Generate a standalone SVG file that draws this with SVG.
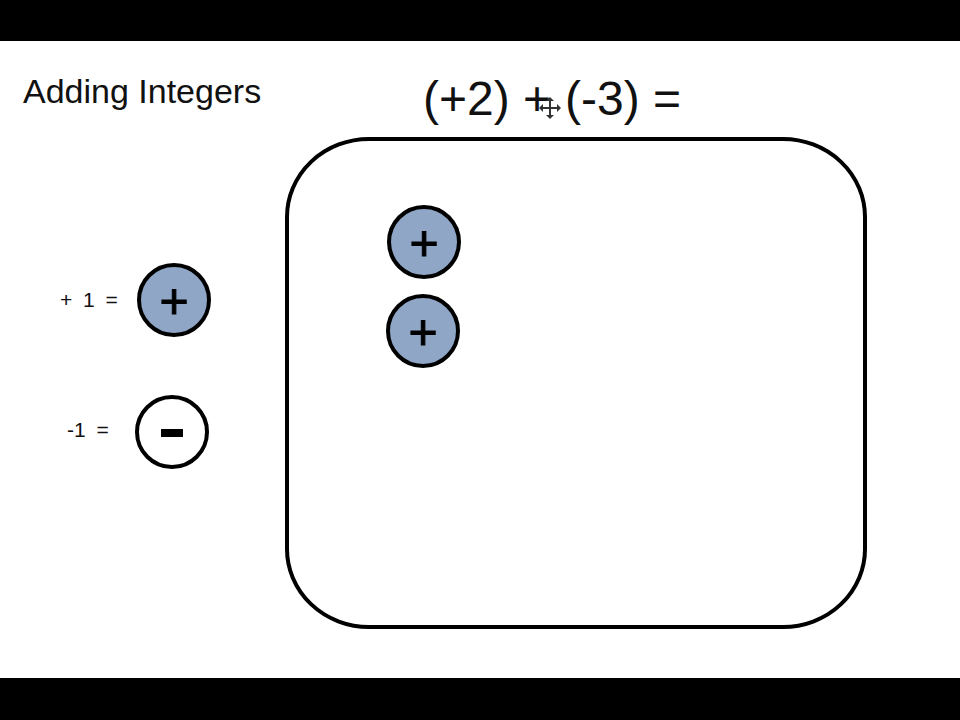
<svg xmlns="http://www.w3.org/2000/svg" width="960" height="720" viewBox="0 0 960 720">
  <style>
    .t { font-family: "Liberation Sans", Arial, sans-serif; fill: #111; }
    .chip { stroke: #000; stroke-width: 4; }
    .pos { fill: #8FA6C6; }
    .neg { fill: #fff; }
    .sign { font-family: "Liberation Sans", Arial, sans-serif; fill: #000; stroke: #000; stroke-width: 1; text-anchor: middle; }
  </style>
  <rect x="0" y="0" width="960" height="720" fill="#fff"/>
  <rect x="0" y="0" width="960" height="41" fill="#000"/>
  <rect x="0" y="678" width="960" height="42" fill="#000"/>

  <g id="title">
    <text class="t" x="23" y="103" font-size="34">Adding Integers</text>
  </g>
  <g id="equation">
    <text class="t" x="423" y="115" font-size="48">(+2) +<tspan x="565">(-3) =</tspan></text>
  </g>
  <g id="cursor" fill="#333">
    <rect x="549" y="100" width="2" height="16"/>
    <rect x="542" y="107" width="16" height="2"/>
    <path d="M550 97 L546 101 L554 101 Z M550 119 L546 115 L554 115 Z M539 108 L543 104 L543 112 Z M561 108 L557 104 L557 112 Z"/>
  </g>

  <g id="legend-plus">
    <text class="t" x="60" y="307" font-size="21" word-spacing="5">+ 1 =</text>
    <circle class="chip pos" cx="174" cy="300" r="35"/>
    <text class="sign" x="174" y="318" font-size="50">+</text>
  </g>
  <g id="legend-minus">
    <text class="t" x="67" y="437" font-size="21" word-spacing="5">-1 =</text>
    <circle class="chip neg" cx="172" cy="432" r="35"/>
    <rect x="161" y="429" width="22" height="8" fill="#000"/>
  </g>

  <g id="workspace">
    <rect x="287" y="139" width="578" height="488" rx="82" ry="78" fill="none" stroke="#000" stroke-width="4"/>
  </g>
  <g id="chip1">
    <circle class="chip pos" cx="424" cy="242" r="35"/>
    <text class="sign" x="424" y="260" font-size="50">+</text>
  </g>
  <g id="chip2">
    <circle class="chip pos" cx="423" cy="331" r="35"/>
    <text class="sign" x="423" y="349" font-size="50">+</text>
  </g>
  <g id="connectors"></g>
</svg>
